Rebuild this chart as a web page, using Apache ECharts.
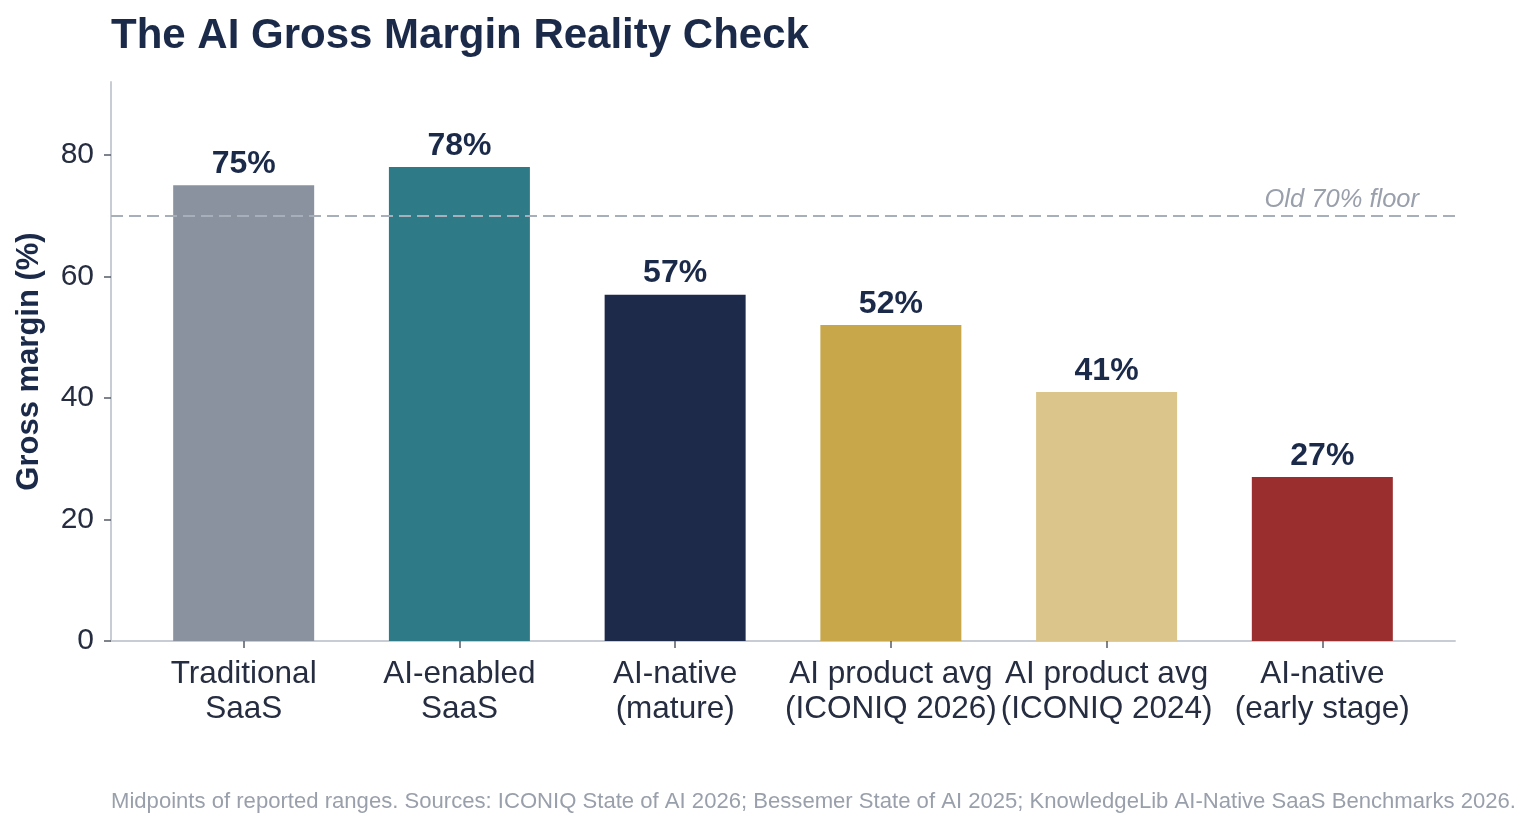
<!doctype html>
<html lang="en">
<head>
    <meta charset="UTF-8">
    <title>The AI Gross Margin Reality Check</title>
    <style>
        body { margin: 0; padding: 0; background: #fff; }
        #main { width: 1536px; height: 831px; }
    </style>
</head>
<body>
    <div id="main"></div>
    <script src="https://cdn.jsdelivr.net/npm/echarts@6/dist/echarts.min.js"></script>
    <script>
        var categories = ['Traditional\nSaaS', 'AI-enabled\nSaaS', 'AI-native\n(mature)',
            'AI product avg\n(ICONIQ 2026)', 'AI product avg\n(ICONIQ 2024)', 'AI-native\n(early stage)'];
        var margins = [75, 78, 57, 52, 41, 27];
        var barColors = ['#8a92a0', '#2e7a86', '#1d2a4a', '#c8a74b', '#dbc58b', '#9a2d2d'];
        var yTicks = [0, 20, 40, 60, 80];
        var oldFloor = 70;

        var navy = '#1c2a4a';
        var font = 'Liberation Sans, Arial, sans-serif';

        var chart = echarts.init(document.getElementById('main'));

        var barData = margins.map(function (v, i) {
            return { value: [i, v], itemStyle: { color: barColors[i] } };
        });

        chart.setOption({
            animation: false,
            textStyle: { fontFamily: font },
            title: {
                text: 'The AI Gross Margin Reality Check',
                left: 106,
                top: 10,
                textStyle: { fontSize: 42, fontWeight: 'bold', color: navy, fontFamily: font }
            },
            graphic: [{
                type: 'text',
                left: 111,
                top: 791,
                style: {
                    text: 'Midpoints of reported ranges. Sources: ICONIQ State of AI 2026; Bessemer State of AI 2025; KnowledgeLib AI-Native SaaS Benchmarks 2026.',
                    font: '22.1px Liberation Sans, Arial, sans-serif',
                    fill: '#9aa0ab'
                }
            }],
            grid: { left: 111, right: 81, top: 82, bottom: 190 },
            xAxis: {
                type: 'value',
                min: -0.615,
                max: 5.615,
                splitLine: { show: false },
                axisLine: { show: true, onZero: false, lineStyle: { color: '#c8ccd4', width: 2 } },
                axisTick: {
                    show: true, length: 7, customValues: [0, 1, 2, 3, 4, 5],
                    lineStyle: { color: '#555b66', width: 1.5 }
                },
                axisLabel: {
                    customValues: [0, 1, 2, 3, 4, 5],
                    formatter: function (v) { return categories[Math.round(v)]; },
                    fontSize: 31.5,
                    lineHeight: 35,
                    color: '#262d40',
                    margin: 16
                }
            },
            yAxis: {
                type: 'value',
                min: 0,
                max: 92,
                name: 'Gross margin (%)',
                nameLocation: 'middle',
                nameGap: 66,
                nameTextStyle: { fontSize: 31, fontWeight: 'bold', color: navy },
                splitLine: { show: false },
                axisLine: { show: true, onZero: false, lineStyle: { color: '#c8ccd4', width: 2 } },
                axisTick: {
                    show: true, length: 7, customValues: yTicks,
                    lineStyle: { color: '#555b66', width: 1.5 }
                },
                axisLabel: {
                    customValues: yTicks,
                    fontSize: 30,
                    color: '#262d40',
                    margin: 17
                }
            },
            series: [{
                type: 'bar',
                data: barData,
                barWidth: 141,
                label: {
                    show: true,
                    position: 'top',
                    distance: 5,
                    formatter: function (p) { return p.value[1] + '%'; },
                    fontSize: 32,
                    fontWeight: 'bold',
                    color: navy
                },
                markLine: {
                    silent: true,
                    symbol: 'none',
                    data: [{ yAxis: oldFloor }],
                    lineStyle: { color: '#a7afba', type: [12, 6], width: 2 },
                    label: {
                        show: true,
                        position: 'insideEndTop',
                        formatter: 'Old 70% floor',
                        fontSize: 25.5,
                        fontStyle: 'italic',
                        color: '#9aa0ab',
                        distance: [36, 3]
                    }
                }
            }]
        });
    </script>
</body>
</html>
